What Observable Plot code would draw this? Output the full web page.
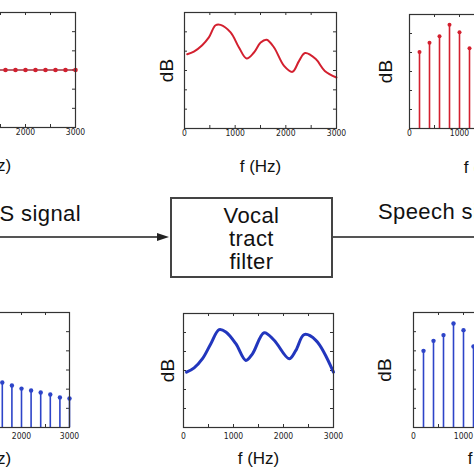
<!DOCTYPE html>
<html>
<head>
<meta charset="utf-8">
<script src="https://cdn.jsdelivr.net/npm/d3@7"></script>
<script src="https://cdn.jsdelivr.net/npm/@observablehq/plot@0.6"></script>
<style>
  html, body { margin: 0; padding: 0; background: #fff; }
  #stage { position: relative; width: 474px; height: 474px; overflow: hidden; background: #fff; font-family: "Liberation Sans", Arial, sans-serif; }
  .panel { position: absolute; }
  .panel svg { overflow: visible; background: transparent; max-width: none !important; }
  .lbl { position: absolute; white-space: nowrap; color: #111; font-size: 22px; letter-spacing: 0.4px; line-height: 1; }
  .hline { position: absolute; height: 0; border-top: 2px solid #555; }
  .box { position: absolute; border: 2px solid #444; box-sizing: border-box; }
  .arrowhead { position: absolute; width: 0; height: 0; border-top: 4px solid transparent; border-bottom: 4px solid transparent; border-left: 12px solid #222; }
</style>
</head>
<body>
<div id="stage"></div>
<script>
// ---------- data ----------
const freqTickLabels = [0, 1000, 2000, 3000];
const freqTickLabelsLeftCrop = [2000, 3000];
const freqTickLabelsRightCrop = [0, 1000];
const freqMinorTicks = [500, 1000, 1500, 2000, 2500];
const dbTicks = [10, 20, 30, 40, 50];

// Top-left: flat source spectrum (red)
const srcFlatHz = [200, 400, 600, 800, 1000, 1200, 1400, 1600, 1800, 2000, 2200, 2400, 2600, 2800, 3000];
const srcFlatDB = [30, 30, 30, 30, 30, 30, 30, 30, 30, 30, 30, 30, 30, 30, 30];

// Top-middle: vocal tract filter envelope (red)
const filtRedHz = [53, 185, 349, 481, 613, 712, 910, 1075, 1226, 1371, 1503, 1622, 1767, 1965, 2130, 2262, 2380, 2591, 2769, 3000];
const filtRedDB = [38.4, 39.8, 43.1, 47.1, 53.4, 53.6, 49.7, 41.9, 36.2, 39.3, 44.5, 45.9, 41.9, 32.4, 29.3, 35.0, 39.0, 35.9, 29.8, 26.4];

// Top-right: speech harmonics (red)
const speechRedHz = [200, 400, 600, 800, 1000, 1200];
const speechRedDB = [40.2, 45.1, 48.5, 54.6, 50.7, 42.3];

// Bottom-left: glottal source harmonics (blue)
const srcBlueHz = [1600, 1800, 2000, 2200, 2400, 2600, 2800, 3000];
const srcBlueDB = [23.5, 21.9, 20.3, 19.3, 18.3, 17.2, 15.7, 15.1];

// Bottom-middle: vocal tract filter envelope (blue)
const filtBlueHz = [60, 213, 380, 547, 713, 847, 1047, 1247, 1380, 1613, 1813, 2113, 2247, 2413, 2647, 3000];
const filtBlueDB = [29.1, 31.4, 36.2, 44.1, 51.5, 50.3, 44.1, 35.3, 38.8, 49.9, 45.9, 36.2, 40.6, 48.9, 45.9, 29.1];

// Bottom-right: speech harmonics (blue)
const speechBlueHz = [200, 400, 600, 800, 1000, 1200];
const speechBlueDB = [40.0, 45.2, 48.2, 54.3, 50.8, 42.3];

const RED = "#d3202f";
const BLUE = "#2236bd";
const BLUE_STEM = "#2d44c8";

// ---------- helpers ----------
const zip = (xs, ys) => xs.map((x, i) => ({f: x, db: ys[i]}));
const stage = document.getElementById("stage");
const mL = 48, mR = 12, mT = 6, mB = 56;

function panel({x, y, w, h, marks, dbDx, fDx = 0, fDy, tickPad, ticks = freqTickLabels, showDB = true}) {
  const tlY = 60 * 3 / h, tlX = 3000 * 3 / w;
  const textFont = "'Liberation Sans', Arial, sans-serif";
  const chart = Plot.plot({
    width: w + mL + mR,
    height: h + mT + mB,
    marginLeft: mL, marginRight: mR, marginTop: mT, marginBottom: mB,
    x: {domain: [0, 3000], axis: null},
    y: {domain: [0, 60], axis: null},
    style: {background: "transparent", fontFamily: "'Liberation Sans Narrow', 'DejaVu Sans Condensed', 'Liberation Sans', sans-serif", color: "#222"},
    marks: [
      // inward ticks (MATLAB-style box)
      Plot.ruleX(freqMinorTicks, {x: d => d, y1: 0, y2: tlY, stroke: "#333", strokeWidth: 1}),
      Plot.ruleX(freqMinorTicks, {x: d => d, y1: 60, y2: 60 - tlY, stroke: "#333", strokeWidth: 1}),
      Plot.ruleY(dbTicks, {y: d => d, x1: 0, x2: tlX, stroke: "#333", strokeWidth: 1}),
      Plot.ruleY(dbTicks, {y: d => d, x1: 3000, x2: 3000 - tlX, stroke: "#333", strokeWidth: 1}),
      ...marks,
      Plot.frame({stroke: "#333", strokeWidth: 1.2}),
      Plot.axisX(ticks, {tickSize: 0, tickPadding: tickPad, fontSize: 8.5, tickFormat: d3.format("d"), label: null, fill: "#222"}),
      showDB ? Plot.text(["dB"], {text: d => d, frameAnchor: "left", dx: dbDx, rotate: -90, textAnchor: "middle", lineAnchor: "middle", fontSize: 19, fontFamily: textFont, fill: "#111"}) : null,
      Plot.text(["f (Hz)"], {text: d => d, frameAnchor: "bottom", dx: fDx, dy: fDy, textAnchor: "middle", lineAnchor: "middle", fontSize: 17, fontFamily: textFont, fill: "#111"})
    ]
  });
  const div = document.createElement("div");
  div.className = "panel";
  div.style.left = (x - mL) + "px";
  div.style.top = (y - mT) + "px";
  div.style.width = (w + mL + mR) + "px";
  div.style.height = (h + mT + mB) + "px";
  div.appendChild(chart);
  stage.appendChild(div);
}

const stems = (data, color, r) => [
  Plot.ruleX(data, {x: "f", y1: 0, y2: "db", stroke: color, strokeWidth: 1.6}),
  Plot.dot(data, {x: "f", y: "db", r, fill: color, stroke: "none"})
];

// ---------- top row (red) ----------
panel({x: -75, y: 12, w: 150, h: 115, dbDx: -18, fDx: -10, fDy: 38, tickPad: 1, ticks: freqTickLabelsLeftCrop, showDB: false,
  marks: [
    Plot.line(zip(srcFlatHz, srcFlatDB), {x: "f", y: "db", stroke: "#a0303c", strokeWidth: 1.4}),
    Plot.dot(zip(srcFlatHz, srcFlatDB), {x: "f", y: "db", r: 2.3, fill: RED, stroke: "none"})
  ]});
panel({x: 184, y: 12, w: 152, h: 116, dbDx: -18, fDy: 38, tickPad: 1,
  marks: [Plot.line(zip(filtRedHz, filtRedDB), {x: "f", y: "db", stroke: RED, strokeWidth: 2, curve: "catmull-rom"})]});
panel({x: 409, y: 14, w: 150, h: 114, dbDx: -24, fDy: 39, tickPad: 1, ticks: freqTickLabelsRightCrop,
  marks: stems(zip(speechRedHz, speechRedDB), RED, 2)});

// ---------- bottom row (blue) ----------
panel({x: -75, y: 312, w: 144, h: 115, dbDx: -18, fDx: -7, fDy: 31, tickPad: 5, ticks: freqTickLabelsLeftCrop, showDB: false,
  marks: stems(zip(srcBlueHz, srcBlueDB), BLUE_STEM, 2.2)});
panel({x: 183, y: 313, w: 150, h: 114, dbDx: -16, fDy: 31, tickPad: 5,
  marks: [Plot.line(zip(filtBlueHz, filtBlueDB), {x: "f", y: "db", stroke: BLUE, strokeWidth: 3, curve: "catmull-rom"})]});
panel({x: 413, y: 312, w: 150, h: 115, dbDx: -29, fDy: 31, tickPad: 5, ticks: freqTickLabelsRightCrop,
  marks: stems(zip(speechBlueHz, speechBlueDB), BLUE_STEM, 2.2)});

// ---------- middle block diagram ----------
function el(cls, styles, text) {
  const d = document.createElement("div");
  d.className = cls;
  Object.assign(d.style, styles);
  if (text) d.innerHTML = text;
  stage.appendChild(d);
  return d;
}
el("hline", {left: "0px", top: "236px", width: "160px"});
el("arrowhead", {left: "157px", top: "233px"});
el("box", {left: "170px", top: "197px", width: "163px", height: "81px"});
el("hline", {left: "333px", top: "236px", width: "141px"});
el("lbl", {right: (474 - 81) + "px", top: "203px", textAlign: "right"}, "S signal");
el("lbl", {left: "378px", top: "201px"}, "Speech signal");
el("lbl", {left: "170px", top: "204px", width: "163px", textAlign: "center", lineHeight: "23px"}, "Vocal<br>tract<br>filter");
</script>
</body>
</html>
